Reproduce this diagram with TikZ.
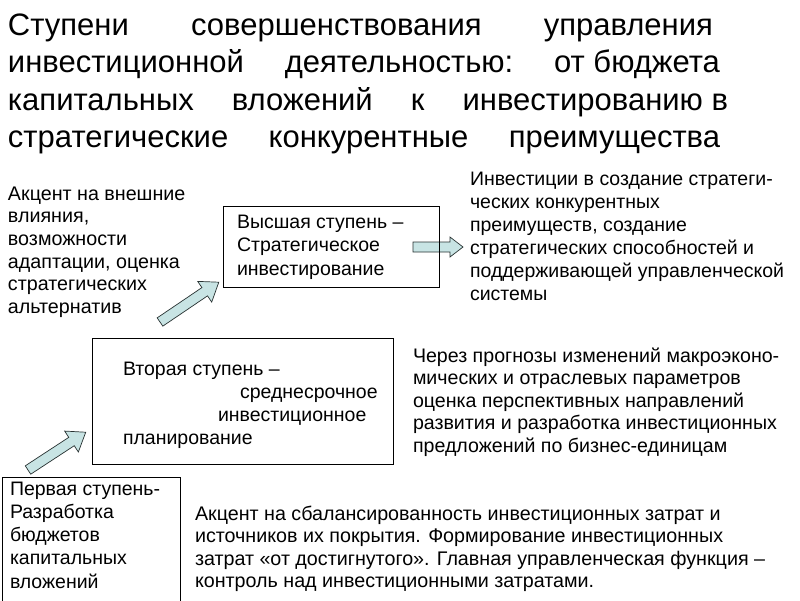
\documentclass[tikz,border=0pt]{standalone}
\usepackage{fontspec}
\setmainfont{Liberation Sans}
\tikzset{
  every node/.style={inner sep=0pt, outer sep=0pt},
  titleline/.style={anchor=base west, font=\fontsize{31}{37.5}\selectfont},
  bodytext/.style={anchor=base west, align=left, font=\fontsize{19.5}{23}\selectfont, execute at begin node={\lineskiplimit=-50pt\lineskip=0pt}},
  stagebox/.style={draw=black, line width=0.9pt},
  arrowfill/.style={fill={rgb,255:red,200;green,228;blue,228}, draw={rgb,255:red,40;green,50;blue,50}, line width=0.7pt, line join=miter},
  pics/blkarrow/.style args={#1/#2/#3}{code={
    \draw[arrowfill] (0,-5) -- (#1-#2,-5) -- (#1-#2,-#3) -- (#1,0) -- (#1-#2,#3) -- (#1-#2,5) -- (0,5) -- cycle;}}
}
\begin{document}
\begin{tikzpicture}[x=1pt,y=-1pt]
\useasboundingbox (0,0) rectangle (800,600);
\fill[white] (0,0) rectangle (800,600);
\clip (0,0) rectangle (800,600);

% title
\node[titleline] (t1) at (8,35)    {\hbox to 705pt{Ступени\hfill совершенствования\hfill управления}};
\node[titleline] (t2) at (8,72.5)  {\hbox to 712pt{инвестиционной\hfill деятельностью:\hfill от бюджета}};
\node[titleline] (t3) at (8,110)   {\hbox to 720pt{капитальных\hfill вложений\hfill к\hfill инвестированию в}};
\node[titleline] (t4) at (8,147.5) {\hbox to 712pt{стратегические\hfill конкурентные\hfill преимущества}};

% arrows (drawn first)
\pic[rotate=0]    at (413,247) {blkarrow=50/13/10};
\pic[rotate=34.1] at (160,322) {blkarrow=71/17/12.5};
\pic[rotate=33.2] at (28,470)  {blkarrow=69/17/12.5};

% boxes
\draw[stagebox] (223,206) rectangle (439,287);
\draw[stagebox] (92,338) rectangle (393,464);
\draw[stagebox] (2,477) rectangle (180,612);

% left text (anchor = baseline of last line)
\node[bodytext, font=\fontsize{19.7}{22.7}\selectfont] (leftnote) at (8,313.5)
 {Акцент на внешние\\влияния,\\возможности\\адаптации, оценка\\стратегических\\альтернатив};

% top box text
\node[bodytext, font=\fontsize{19.5}{23.5}\selectfont] (high) at (237,275)
 {Высшая ступень --\\Стратегическое\\инвестирование};

% right top text
\node[bodytext] (highnote) at (470,300)
 {Инвестиции в создание стратеги-\\ческих конкурентных\\преимуществ, создание\\стратегических способностей и\\поддерживающей управленческой\\системы};

% middle box text
\node[bodytext, font=\fontsize{19.5}{23.2}\selectfont] (mid) at (123,444.6)
 {Вторая ступень --\\\hspace*{117pt}среднесрочное\\\hspace*{95pt}инвестиционное\\планирование};

% middle right text
\node[bodytext, font=\fontsize{19.6}{22.5}\selectfont] (midnote) at (413,452)
 {Через прогнозы изменений макроэконо-\\мических и отраслевых параметров\\оценка перспективных направлений\\развития и разработка инвестиционных\\предложений по бизнес-единицам};

% first box text
\node[bodytext, font=\fontsize{19.5}{23.3}\selectfont] (low) at (10,588.2)
 {Первая ступень-\\Разработка\\бюджетов\\капитальных\\вложений};

% bottom text
\node[bodytext, font=\fontsize{19.7}{22.5}\selectfont] (lownote) at (195,587.5)
 {Акцент на сбалансированность инвестиционных затрат и\\источников их покрытия. Формирование инвестиционных\\затрат «от достигнутого». Главная управленческая функция --\\контроль над инвестиционными затратами.};
\end{tikzpicture}
\end{document}
